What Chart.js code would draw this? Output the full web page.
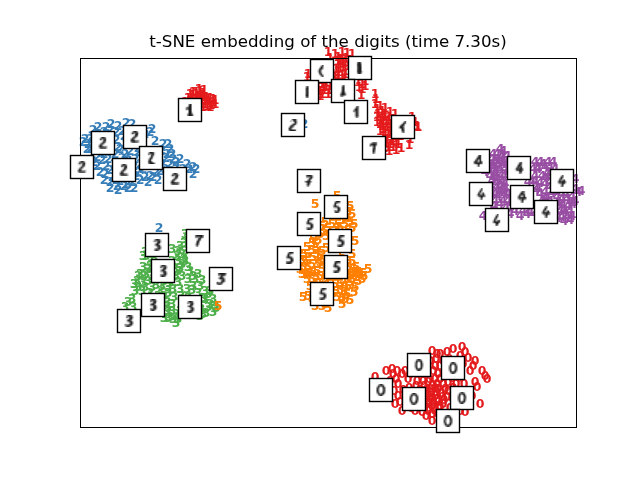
<!DOCTYPE html>
<html>
<head>
<meta charset="utf-8">
<title>t-SNE embedding of the digits</title>
<script src="https://cdn.jsdelivr.net/npm/chart.js@4"></script>
<style>
  html, body { margin: 0; padding: 0; background: #fff; }
  canvas { display: block; }
</style>
</head>
<body>
<canvas id="myChart" width="640" height="480"></canvas>
<script>
const titleText = 't-SNE embedding of the digits (time 7.30s)';
const digits = ['0', '1', '2', '3', '4', '5'];
const digitColors = ['#e41a1c', '#e41a1c', '#377eb8', '#4daf4a', '#984ea3', '#ff7f00'];

// values, in embedding units (plot is 496 x 369 units)
const points0 = [[312,57],[317,55],[322,52],[313,52],[295,49],[352,75],[360,72],[367,74],[373,77],[382,79],[385,74],[395,65],[393,60],[390,55],[402,55],[405,50],[407,47],[395,44],[397,39],[400,22],[392,30],[385,14],[352,5],[318,30],[315,22],[320,24],[322,15],[335,15],[342,14],[348,15],[352,20],[348,32],[355,30],[352,40],[358,37],[363,42],[355,47],[360,47],[353,55],[355,60],[360,60],[328,47],[337,45],[343,45],[348,44],[353,24],[358,24],[362,29],[367,29],[363,22],[368,35],[368,44],[355,15],[360,19],[350,27],[356,34],[350,37],[365,37],[348,24],[354,19],[357,42],[318,42],[314,35],
  [345,20],[349,18],[352,28],[346,28],[357,27],[351,33],[346,36],[355,38],[361,33],[364,26],[359,20],[352,12],[346,10],[358,12],[340,20],[336,25],[332,32],[340,36],[336,40],[329,38],[323,36],[326,22],[331,18],[340,28],[344,40],[349,47],[343,52],[337,55],[331,52],[325,55],[347,58],[343,63],[350,65],[356,67],[363,65],[369,67],[375,65],[380,70],[373,60],[378,55],[383,62],[388,68],[379,48],[384,42],[376,42],[387,35],[380,35],[373,38],[385,25],[377,22],[370,18],[373,12],[380,15],[366,12],[369,52],[364,54],[358,52],[372,28],[372,48],[366,60],[357,72],[316,47],[310,45],[306,55]];
const points1 = [[116,334],[120,335],[123,333],[112,331],[118,330],[126,329],[130,328],[108,328],[115,327],[122,326],[128,325],[133,324],[105,324],[120,323],[125,322],[131,321],[127,320],[123,319],[130,323],[117,328],[113,334],
  [110,325],[112,328],[118,325],[124,329],[128,327],[133,327],[135,322],[135,326],[130,319],[125,325],[120,329],[116,332],[122,331],[119,337],[124,336],[110,332],
  [248,374],[262,374],[267,373],[272,372],[258,369],[262,365],[265,364],[258,362],[263,359],[258,354],[265,352],[255,349],[228,352],[227,349],[253,352],[242,342],[243,339],[240,335],[245,344],[250,340],[242,332],[282,342],[285,345],[282,337],[278,344],[281,331],
  [258,365],[260,358],[263,363],[258,351],[262,350],[265,355],[268,360],[256,357],[260,367],[266,368],[270,366],[252,347],[258,347],[264,347],[241,346],[246,340],[249,336],[244,336],[238,340],[252,336],[248,332],[240,330],[235,340],[231,345],[233,352],[255,372],[250,368],[279,339],[285,340],
  [295,332],[296,327],[295,322],[297,317],[298,312],[302,309],[305,312],[310,314],[315,312],[303,305],[308,305],[297,304],[302,300],[307,299],[310,302],[305,294],[310,294],[315,295],[307,287],[312,285],[318,282],[308,279],[313,279],[330,287],[337,300],[338,299],[332,309],
  [300,320],[302,315],[305,318],[300,306],[304,310],[309,309],[313,307],[300,295],[303,297],[306,303],[311,298],[315,290],[303,290],[308,292],[312,288],[306,283],[310,282],[316,285],[304,278],[309,275],[316,276],[321,278],[297,309],[300,302],[320,290],[335,304],[329,281]];
const points2 = [[5,287],[3,284],[7,277],[10,287],[13,296],[18,299],[26,299],[31,302],[38,300],[46,303],[52,302],[42,295],[63,296],[70,294],[72,297],[65,292],[75,285],[83,282],[90,277],[93,267],[100,267],[107,262],[113,259],[113,252],[17,269],[17,260],[20,254],[30,244],[37,240],[52,244],[70,250],[73,249],[40,277],[50,275],[58,274],[63,257],[35,272],[45,272],[38,279],[28,267],[25,252],[32,249],[40,245],[47,242],[80,255],[85,257],[90,262],[87,272],[96,259],[60,262],[65,249],[55,267],[10,277],[12,272],[79,198],[224,302],
  [12,290],[18,292],[24,294],[30,296],[36,294],[8,282],[14,284],[20,286],[28,288],[36,286],[44,290],[50,296],[58,296],[14,264],[22,266],[26,260],[30,256],[24,272],[30,276],[18,276],[14,280],[34,262],[36,256],[40,262],[42,268],[48,266],[50,258],[54,260],[56,250],[58,254],[62,268],[58,278],[52,282],[46,282],[66,262],[60,246],[36,246],[44,240],[24,246],[30,238],[38,236],[54,238],[48,238],[68,244],[76,254],[82,262],[86,268],[78,272],[82,276],[88,282],[92,272],[96,264],[103,257],[109,257],[100,252],[116,257],[78,246]];
const points3 = [[65,174],[92,177],[98,175],[97,170],[102,172],[105,175],[107,187],[105,192],[98,165],[102,162],[108,159],[102,150],[108,147],[115,147],[98,144],[63,159],[60,152],[57,145],[63,144],[68,145],[58,139],[65,139],[72,139],[82,140],[88,139],[93,137],[100,137],[107,137],[113,140],[120,140],[125,135],[128,132],[133,127],[128,119],[133,114],[123,112],[52,127],[45,119],[53,119],[87,124],[87,119],[88,114],[90,109],[93,107],[98,107],[63,170],[68,157],[70,165],[75,147],[80,135],[95,157],[92,147],[98,155],[125,127],[121,117],[94,129],
  [66,170],[70,175],[74,168],[70,160],[64,150],[58,150],[66,152],[72,150],[78,150],[84,145],[90,143],[96,150],[100,158],[104,167],[100,180],[104,183],[108,192],[105,165],[110,155],[113,150],[118,152],[122,146],[112,136],[118,133],[123,128],[130,135],[135,120],[130,122],[126,113],[120,110],[136,118],[78,130],[84,130],[88,133],[92,122],[88,108],[96,112],[100,115],[104,125],[101,130],[108,128],[112,125],[76,141],[55,135],[62,135],[70,133],[54,142],[48,124],[92,115],[84,108],[96,103],[116,122],[90,160],[85,155],[92,165]];
const points4 = [[412,267],[413,272],[420,277],[423,275],[417,272],[422,270],[427,270],[415,264],[420,264],[425,265],[413,259],[420,257],[425,257],[405,254],[410,250],[415,252],[412,245],[422,244],[425,242],[417,239],[415,232],[420,234],[425,232],[415,225],[423,225],[428,232],[403,210],[430,212],[443,215],[450,214],[448,244],[455,264],[460,264],[468,264],[473,264],[453,257],[458,257],[465,259],[470,259],[455,250],[462,250],[467,252],[470,249],[465,242],[470,239],[465,234],[460,232],[467,229],[477,229],[482,227],[487,227],[492,229],[483,220],[488,220],[480,215],[485,214],[490,215],[482,209],[487,209],[495,247],[495,237],[501,235],[498,234],
  [412,262],[417,267],[421,269],[418,261],[423,262],[427,262],[410,259],[416,255],[424,250],[413,248],[418,247],[421,250],[430,265],[430,258],[428,253],[408,257],[411,240],[416,243],[420,240],[425,238],[418,230],[423,236],[412,232],[414,220],[420,222],[428,225],[432,222],[426,218],[435,215],[440,210],[447,212],[455,212],[458,258],[463,262],[455,245],[460,243],[465,248],[470,252],[475,257],[452,244],[458,238],[470,244],[473,240],[465,228],[472,233],[478,224],[482,232],[490,224],[493,222],[486,232],[495,225],[476,218],[480,222],[484,216],[492,210],[478,208],[484,205],[490,206],[474,212],[470,225],[462,225],[456,236],[475,235]];
const points5 = [[235,222],[257,230],[270,220],[268,214],[270,204],[265,202],[258,202],[252,202],[245,204],[245,195],[252,195],[260,199],[233,187],[235,182],[275,185],[227,179],[227,172],[242,175],[233,169],[223,159],[222,152],[227,147],[233,154],[240,164],[242,157],[288,157],[273,157],[278,154],[272,152],[277,149],[282,147],[270,144],[275,139],[265,139],[260,142],[255,142],[267,132],[223,129],[265,127],[257,129],[235,120],[242,120],[230,140],[232,147],[238,162],[236,149],[228,159],[232,162],[138,120],[272,165],[268,159],[263,147],[265,177],[258,195],[225,165],[220,157],
  [262,222],[268,208],[272,212],[262,206],[256,198],[248,198],[242,200],[246,190],[240,192],[252,190],[258,190],[262,192],[268,196],[272,198],[274,202],[232,183],[238,186],[236,178],[232,176],[246,178],[240,170],[236,172],[243,166],[228,165],[224,172],[222,166],[218,162],[224,152],[228,153],[237,155],[246,162],[248,155],[245,148],[242,143],[236,143],[230,153],[240,150],[250,150],[250,142],[246,136],[240,135],[236,133],[232,128],[238,128],[250,132],[256,135],[260,136],[264,134],[268,140],[262,128],[270,150],[275,154],[280,152],[283,153],[278,145],[284,150],[272,147],[276,159],[268,152],[262,155],[258,150],[274,134],[270,126],[262,122],[248,118],[245,122],[226,152],[268,165],[272,172],[262,170],[228,130]];

// thumbnails: centre of each box, and its 8x8 grey image (hex 0-f, rows split by /)
const thumbX = [301,339,373,334,382,368, 110,242,280,227,263,276,323,294,229, 2,23,55,71,44,95,213, 77,118,83,141,73,110,49, 398,439,482,401,442,466,417, 256,229,260,209,256,242];
const thumbY = [37,62,59,28,29,6, 317,356,359,335,336,315,300,279,246, 260,284,290,269,257,248,302, 182,186,156,148,122,120,106, 266,259,246,233,230,215,207, 220,203,186,169,160,133];
const thumbImages = [
  '005de500/03f9bf20/0bc00dc0/0e800bc0/0f800bc0/0cb02ea0/04f9df30/006ed300',
  '006de400/02fabf10/07e01f50/08c00f80/09c00e80/07e01f50/02fbdf10/005ed300',
  '004de500/00faaf30/06f00ca0/09c00ad0/09c00bc0/06f01ea0/01fbdf30/004dd400',
  '005ee500/04f9af40/0ac00bc0/0d800ad0/0e800bc0/09d03f80/02facf20/006dc300',
  '004cd500/02f9cf10/07e01f80/0ac00ca0/0ac00d90/07e02f60/02f9df10/005ed200',
  '006de400/03fabf20/08c00e90/0c800cb0/0d800bb0/08d02f80/03facf20/005dd300',
  '000af000/002ef000/07cff000/09aff000/000ff000/000ff200/006ff800/009ffd20',
  '0004d000/002fa000/00cf7000/04f70000/05f60000/01ea0000/006f7000/0006d000',
  '00af9000/00efd000/00dfe000/00cff000/00cff000/00dff000/00eff400/009fb100',
  '0007c000/000cf000/000de000/000ce000/000cf000/000de000/000ef000/0008a000',
  '0005c000/000bf000/000bf000/000cf000/002df200/006ff800/00cffb10/00793000',
  '0000a900/0006f900/004ff800/00a9f800/0006f800/0006f800/0006f900/0002a400',
  '00003d00/0002ec00/004fe000/03fe8000/07ff9000/002fb000/000ec000/0006a000',
  '004aa900/08fffc00/0b6cf500/0009e000/000de000/000fa000/000f8000/000a4000',
  '00cffd40/00779f70/0002ec00/001be000/09ffe800/005fa000/007f5000/00380000',
  '006de700/04e8bf20/0130cf00/0006e800/006e8000/03e90000/0bfb8840/04bbbb30',
  '005ee800/02f7bf00/0010ce00/0007f800/009e8000/07f70000/0bfdaa60/03bbbb40',
  '006ef800/04f8cf20/0110ff00/0008f800/00be6000/09f70000/0eff9960/05bba940',
  '005ffc20/00b6cf20/0000f800/0007f300/004fa000/009f0000/00dfa000/009fff60',
  '006ed600/00e8cf00/0001ee00/0008f600/008f7000/05f80000/0cfe9930/06cccb60',
  '005de800/03f9bf40/0121df00/0007f700/00af5000/07f60000/0cffcc80/05bbbb50',
  '0009ee40/0060bf60/00000f70/0006fd20/00bfa000/06fa3000/0fc30000/09fffd00',
  '006dfb20/03a7bf60/0001ef20/004ef500/0038ef30/0000ae80/005abf60/009ec400',
  '00bffff8/00998cf6/0000df00/0006f800/000ee000/003f9000/006f5000/00290000',
  '005eeb20/00c79f60/0002ef20/006ef500/0056df30/0000bf60/009acf40/008fd700',
  '00cfffe6/0098edb2/0008f500/007ffc40/00049f80/0000cf80/0fabf500/07cc6000',
  '008ffa00/00b7bf40/0003ef00/00aff500/0056cf20/0000df60/00b8df30/007fd400',
  '004efb10/0096bf40/0000ef20/006ef600/0002bf50/00007f90/0078ef50/007ec500',
  '005efc30/00b6af80/0001df40/004ff800/0026cf60/00007f90/0a8aef30/04cea200',
  '0000af00/0006ff00/002fdf00/00cd4f00/0afa6fa0/09ffffc0/0005f000/0003a000',
  '00009c00/0005fc00/000df800/007eaf00/03fcdf80/02bdfe90/0000ed00/00009600',
  '0003c000/001eb000/009f3000/02e78e00/09fdff80/04aafd30/0006f000/0008a000',
  '0001c000/000ac000/005f4000/00e74e00/06fa9f60/02aefd90/0005f000/00049000',
  '0004d800/002fe800/00cdce00/06f44f00/0aeefff0/03a9fa60/0008f000/0005a000',
  '0004c000/001f9000/00af2000/03f56f00/09fdef90/029bfb60/0008f000/0006a000',
  '0002d000/000da000/006f3000/00e80000/05f5af00/08fffc00/001df000/000b6000',
  '0006ffc0/000fa530/005f0000/009fc700/00458fa0/00000ed0/002a7fa0/000bfb10',
  '0005ffc0/000f8510/005f3000/009fea20/00247fb0/00000fc0/007aaf80/006fd900',
  '0008ffd0/000fb640/004f6000/009ffb40/00259fb0/00001fc0/0078cf70/008fe800',
  '0004ffe0/000f9520/005f6000/009fec30/00338fb0/00000fd0/00aadf80/00cfe900',
  '0009ffe0/001fb660/006f5000/00afea20/00268fc0/00002fd0/007acf80/008fda00',
  '0006ffb0/000f9620/005f2000/008fdb30/00158fb0/00000fc0/0069df70/007fc800'
];

const ctx = document.getElementById('myChart');
const digitPoints = [points0, points1, points2, points3, points4, points5];

function thumbCanvas(rows) {
  const hex = rows.replace(/\//g, '');
  const c = document.createElement('canvas');
  c.width = 8;
  c.height = 8;
  const g = c.getContext('2d');
  const img = g.createImageData(8, 8);
  for (let i = 0; i < 64; i++) {
    const v = 255 - parseInt(hex[i], 16) * 15;
    img.data[i * 4] = v;
    img.data[i * 4 + 1] = v;
    img.data[i * 4 + 2] = v;
    img.data[i * 4 + 3] = 255;
  }
  g.putImageData(img, 0, 0);
  return c;
}

const digitLabels = {
  id: 'digitLabels',
  afterDatasetsDraw(chart) {
    const g = chart.ctx;
    g.save();
    g.font = 'bold 12.5px "DejaVu Sans"';
    g.textAlign = 'center';
    g.textBaseline = 'middle';
    digits.forEach((d, i) => {
      g.fillStyle = digitColors[i];
      chart.getDatasetMeta(i).data.forEach(p => g.fillText(d, p.x, p.y));
    });
    // plot frame goes under the thumbnails
    const a = chart.chartArea;
    g.strokeStyle = '#000';
    g.lineWidth = 1;
    g.strokeRect(a.left + 0.5, a.top + 0.5, a.right - a.left, a.bottom - a.top);
    const size = 23;
    const imgSize = 12;
    chart.getDatasetMeta(digits.length).data.forEach((p, i) => {
      const x = Math.round(p.x), y = Math.round(p.y);
      g.fillStyle = '#fff';
      g.fillRect(x - size / 2, y - size / 2, size, size);
      g.imageSmoothingEnabled = true;
      g.drawImage(thumbCanvas(thumbImages[i]), x - imgSize / 2, y - imgSize / 2, imgSize, imgSize);
      g.lineWidth = 1.4;
      g.strokeRect(x - size / 2, y - size / 2, size, size);
    });
    g.restore();
  }
};

const datasets = digits.map((d, i) => ({ label: d, data: digitPoints[i], pointRadius: 0, showLine: false }));
datasets.push({ label: 'thumbnails', data: thumbX.map((x, i) => [x, thumbY[i]]), pointRadius: 0, showLine: false });

new Chart(ctx, {
  type: 'scatter',
  data: { datasets: datasets },
  plugins: [digitLabels],
  options: {
    responsive: false,
    animation: false,
    layout: { padding: { left: 80, right: 64, top: 0, bottom: 53 } },
    scales: {
      x: { type: 'linear', min: 0, max: 496, display: false },
      y: { type: 'linear', min: 0, max: 369, display: false }
    },
    plugins: {
      legend: { display: false },
      tooltip: { enabled: false },
      title: {
        display: true,
        text: titleText,
        color: '#000',
        font: { family: '"DejaVu Sans"', size: 16.67, weight: 'normal', lineHeight: 1.2 },
        padding: { top: 33, bottom: 5 }
      }
    }
  }
});
</script>
</body>
</html>
